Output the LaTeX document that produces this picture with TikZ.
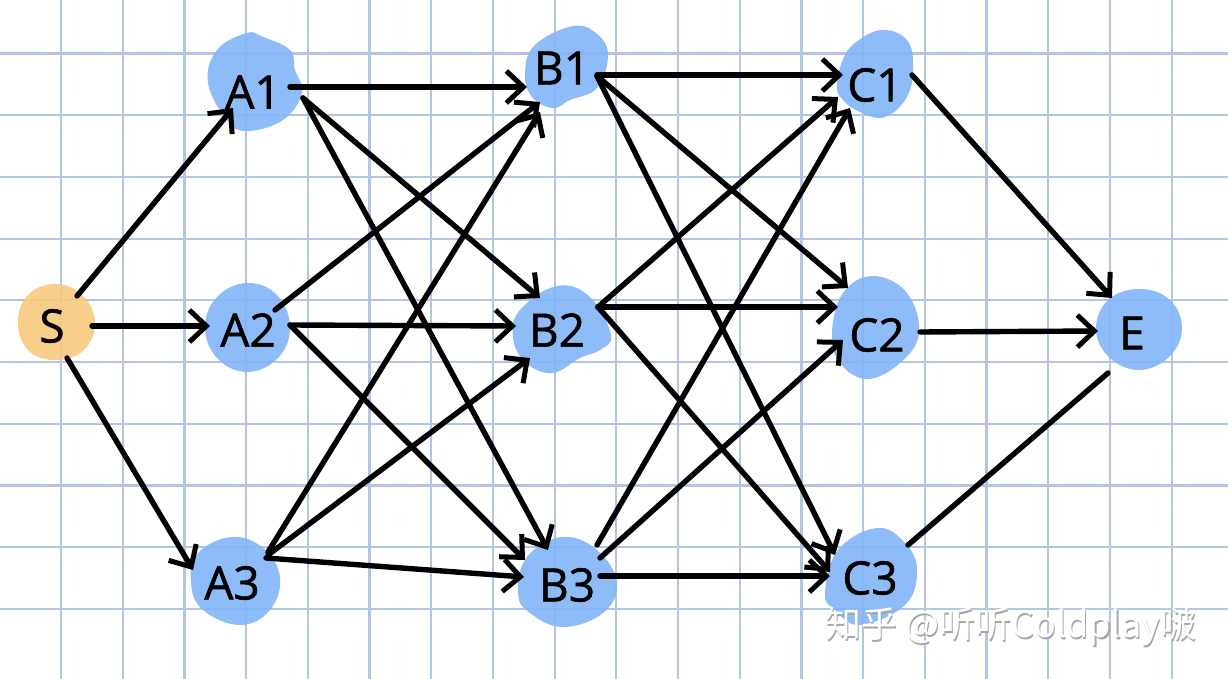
\documentclass[tikz,border=0pt]{standalone}
\usepackage{fontspec}
\setmainfont{Open Sans}[FakeBold=1.2]
\newfontfamily\cjkmark{Noto Sans CJK SC}
\usetikzlibrary{arrows.meta}
\definecolor{gridblue}{HTML}{B3C5E0}
\definecolor{blobblue}{HTML}{82B5F8}
\definecolor{bloborange}{HTML}{F9C97F}
\tikzset{
  blobshape/.style={fill=blobblue,fill opacity=.9},
  lettering/.style={inner sep=0pt,font=\fontsize{46}{46}\selectfont},
  edgearrow/.style={line width=5.4pt,line cap=round,line join=round,-{Straight Barb[length=17pt,width=32pt,line width=5pt]}},
  edgeplain/.style={line width=5.4pt,line cap=round},
  gridline/.style={gridblue,line width=2.2pt},
  wmark/.style={font=\cjkmark\fontsize{36}{36}\selectfont,anchor=west,inner sep=0pt}
}
\newcommand\linkarrow[4]{\draw[edgearrow] ([shift={(#2)}]#1.center) -- ([shift={(#4)}]#3.center);}
\newcommand\linkplain[4]{\draw[edgeplain] ([shift={(#2)}]#1.center) -- ([shift={(#4)}]#3.center);}
\begin{document}
\begin{tikzpicture}[x=1pt,y=-1pt]
\useasboundingbox (0,0) rectangle (1228,679);
\fill[white] (0,0) rectangle (1228,679);
\foreach \k in {0,...,19} \draw[gridline] ({-0.7+61.7*\k},0) -- ({-0.7+61.7*\k},679);
\foreach \k in {0,...,10} \draw[gridline] (0,{-8.2+61.7*\k}) -- (1228,{-8.2+61.7*\k});
% painted blobs
\fill[blobshape,fill=bloborange] plot[smooth cycle,tension=.68] coordinates {(55,284) (82,295) (95,322) (84,350) (55,360) (28,350) (18,322) (28,295)};
\fill[blobshape] plot[smooth cycle,tension=.68] coordinates {(247,33) (263,37) (290,50) (295,70) (302,93) (283,120) (247,131) (227,120) (208,83) (217,50)};
\fill[blobshape] plot[smooth cycle,tension=.68] coordinates {(247,283) (277,295) (290,327) (278,358) (247,372) (217,358) (205,327) (217,297)};
\fill[blobshape] plot[smooth cycle,tension=.68] coordinates {(232,537) (263,548) (280,577) (270,610) (240,625) (203,610) (191,583) (198,553)};
\fill[blobshape] plot[smooth cycle,tension=.68] coordinates {(573,26) (597,34) (608,55) (597,88) (570,100) (553,108) (532,97) (525,73) (535,45)};
\fill[blobshape] plot[smooth cycle,tension=.68] coordinates {(557,286) (590,297) (611,335) (600,350) (580,358) (552,373) (525,362) (513,337) (520,310)};
\fill[blobshape] plot[smooth cycle,tension=.68] coordinates {(562,537) (597,550) (617,583) (603,613) (563,627) (530,613) (518,593) (527,557)};
\fill[blobshape] plot[smooth cycle,tension=.68] coordinates {(883,30) (905,38) (913,60) (908,95) (885,117) (860,112) (843,100) (837,85) (845,55) (862,38)};
\fill[blobshape] plot[smooth cycle,tension=.68] coordinates {(873,276) (907,293) (919,333) (900,363) (867,379) (840,363) (832,333) (843,293)};
\fill[blobshape] plot[smooth cycle,tension=.68] coordinates {(877,528) (905,543) (917,570) (905,605) (860,625) (835,610) (825,593) (838,550)};
\fill[blobshape] plot[smooth cycle,tension=.68] coordinates {(1140,289) (1170,300) (1182,328) (1170,356) (1140,370) (1110,358) (1096,330) (1108,300)};
% labels
\node[lettering] (S) at (52,326) {S};
\node[lettering] (A1) at (253,92) {A1};
\node[lettering] (A2) at (248,330) {A2};
\node[lettering] (A3) at (232,583) {A3};
\node[lettering] (B1) at (562,68) {B1};
\node[lettering] (B2) at (557,330) {B2};
\node[lettering] (B3) at (567,585) {B3};
\node[lettering] (C1) at (875,85) {C1};
\node[lettering] (C2) at (877,335) {C2};
\node[lettering] (C3) at (870,578) {C3};
\node[lettering] (E) at (1132,333) {E};
% connectors
\linkarrow{S}{25,-30}{A1}{-20,16}
\linkarrow{S}{40,0}{A2}{-38,-4}
\linkarrow{S}{15,32}{A3}{-39,-13}
\linkarrow{A1}{37,-5}{B1}{-35,19}
\linkarrow{A1}{50,6}{B2}{-17,-32}
\linkarrow{A1}{50,6}{B3}{-19,-35}
\linkarrow{A2}{27,-20}{B1}{-22,34}
\linkarrow{A2}{42,-5}{B2}{-41,-4}
\linkarrow{A2}{42,-5}{B3}{-42,-25}
\linkarrow{A3}{36,-31}{B1}{-22,44}
\linkarrow{A3}{36,-28}{B2}{-27,28}
\linkarrow{A3}{34,-25}{B3}{-43,-8}
\linkarrow{B1}{35,7}{C1}{-32,-10}
\linkarrow{B1}{35,8}{C2}{-29,-47}
\linkarrow{B1}{35,8}{C3}{-35,-23}
\linkarrow{B2}{41,-23}{C1}{-37,12}
\linkarrow{B2}{41,-23}{C2}{-39,-28}
\linkarrow{B2}{41,-23}{C3}{-40,-6}
\linkarrow{B3}{30,-40}{C1}{-25,23}
\linkarrow{B3}{33,-27}{C2}{-34,5}
\linkarrow{B3}{33,-9}{C3}{-40,-2}
\linkarrow{C1}{37,-10}{E}{-20,-35}
\linkarrow{C2}{43,-3}{E}{-34,-2}
\linkplain{C3}{38,-33}{E}{-24,40}
\node[wmark,text=black!35] (wmshadow) at (826.5,628.5) {知乎 @听听Coldplay啵};
\node[wmark,text=white] (wm) at (825,627) {知乎 @听听Coldplay啵};
\end{tikzpicture}
\end{document}
